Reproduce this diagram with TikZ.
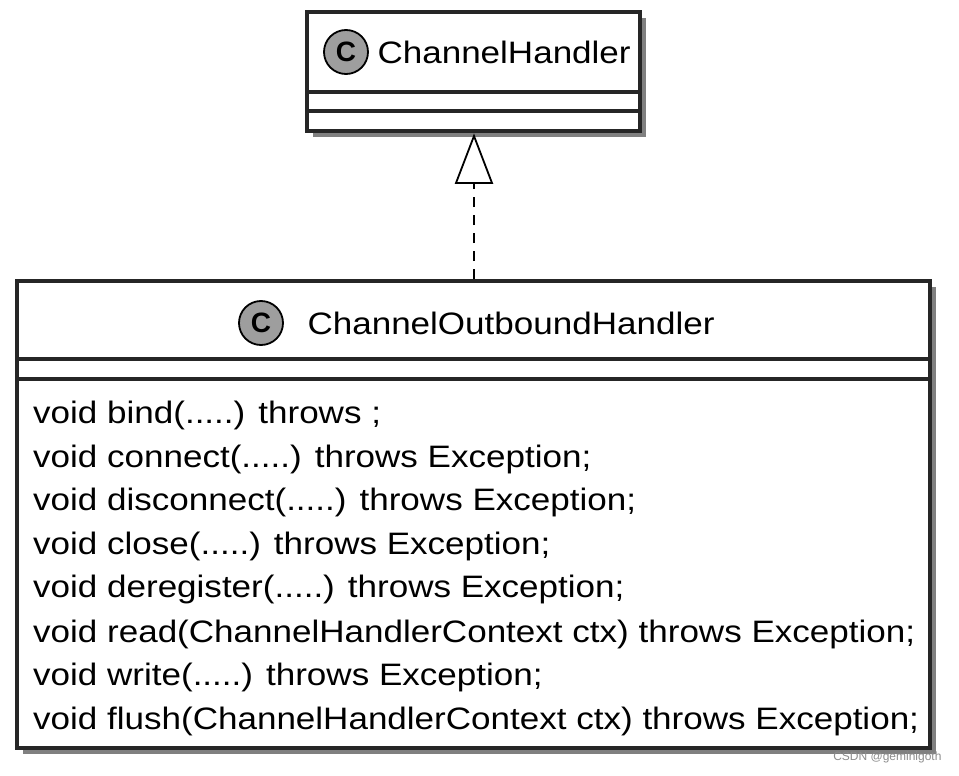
\documentclass[tikz,border=0pt]{standalone}
\usepackage{fontspec}
\setmainfont{Liberation Sans}
\newfontfamily\umlfont[FakeStretch=1.13]{Liberation Sans}
\usetikzlibrary{arrows.meta,shadows}
\begin{document}
\begin{tikzpicture}[x=1pt,y=-1pt,
  box/.style={draw=black!85,line width=3.2pt,fill=white,drop shadow={shadow xshift=6pt,shadow yshift=-6pt,fill=black!50,opacity=1}},
  sep/.style={draw=black!85,line width=3.2pt},
  cc/.style={circle,draw=black,line width=1.8pt,fill=black!38,minimum size=44pt,inner sep=0pt,font=\fontsize{28}{28}\selectfont\bfseries},
  cname/.style={font=\umlfont\fontsize{31}{31}\selectfont},
  meth/.style={font=\umlfont\fontsize{31}{31}\selectfont,anchor=base west,inner sep=0pt}]
\useasboundingbox (0,0) rectangle (959,776);
\path[box] (307,12) rectangle (640,131);
\draw[sep] (307,92) -- (640,92);
\draw[sep] (307,111) -- (640,111);
\node[cc] (c1) at (346,52) {C};
\node[cname,anchor=west] (n1) at (374,52) {ChannelHandler};
\coordinate (top) at (474,133);
\path[box] (17,281) rectangle (930,748);
\draw[sep] (17,359) -- (930,359);
\draw[sep] (17,379) -- (930,379);
\node[cc] (c2) at (261,323) {C};
\node[cname,anchor=west] (n2) at (304,323) {ChannelOutboundHandler};
\coordinate (bot) at (474,279);
\draw[line width=1.8pt,dash pattern=on 10pt off 8pt] (bot) -- (474,183);
\draw[line width=1.8pt,fill=white] (474,136) -- (492,183) -- (456,183) -- cycle;
\node[meth] (m1) at (33,423) {void bind(.....) throws ;};
\node[meth] (m2) at (33,467) {void connect(.....) throws Exception;};
\node[meth] (m3) at (33,510) {void disconnect(.....) throws Exception;};
\node[meth] (m4) at (33,554) {void close(.....) throws Exception;};
\node[meth] (m5) at (33,597) {void deregister(.....) throws Exception;};
\node[meth] (m6) at (33,642) {void read(ChannelHandlerContext ctx) throws Exception;};
\node[meth] (m7) at (33,685) {void write(.....) throws Exception;};
\node[meth] (m8) at (33,729) {void flush(ChannelHandlerContext ctx) throws Exception;};
\node[font=\fontsize{12}{12}\selectfont,text=black!45,anchor=east] (wm) at (945,757) {CSDN @geminigoth};
\end{tikzpicture}
\end{document}
